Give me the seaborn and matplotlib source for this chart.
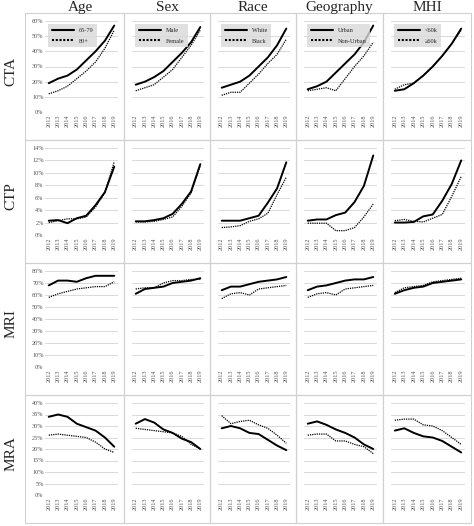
import matplotlib
matplotlib.use("Agg")
import matplotlib.pyplot as plt
import seaborn as sns
import pandas as pd
from matplotlib.patches import Rectangle
from matplotlib.ticker import PercentFormatter

sns.set_theme(style="white")
plt.rcParams['font.family'] = ['Liberation Serif', 'DejaVu Serif']

years = [2012, 2013, 2014, 2015, 2016, 2017, 2018, 2019]
columns = ["Age", "Sex", "Race", "Geography", "MHI"]
rows = ["CTA", "CTP", "MRI", "MRA"]
legend_labels = {"Age": ("65-79", "80+"), "Sex": ("Male", "Female"), "Race": ("White", "Black"),
                 "Geography": ("Urban", "Non-Urban"), "MHI": ("<60k", "≥60k")}

cta = {
    "Age": ([19, 22, 24, 28, 34, 40, 47, 57], [12, 14, 17, 22, 27, 33, 42, 54]),
    "Sex": ([18, 20, 23, 27, 33, 39, 46, 56], [14, 16, 18, 23, 28, 36, 44, 54]),
    "Race": ([16, 18, 20, 24, 30, 36, 44, 55], [11, 13, 13, 19, 25, 32, 38, 48]),
    "Geography": ([15, 17, 20, 26, 32, 38, 46, 57], [14, 15, 16, 14, 22, 30, 37, 46]),
    "MHI": ([14, 15, 19, 24, 30, 37, 45, 55], [15, 18, 19, 24, 30, 37, 45, 54]),
}
ctp = {
    "Age": ([2.3, 2.4, 1.9, 2.7, 3.1, 4.8, 6.9, 11.0], [2.0, 2.3, 2.6, 2.6, 2.9, 4.5, 6.8, 11.8]),
    "Sex": ([2.2, 2.2, 2.4, 2.7, 3.4, 5.0, 7.0, 11.4], [2.1, 2.1, 2.2, 2.5, 2.9, 4.6, 6.8, 11.2]),
    "Race": ([2.3, 2.3, 2.3, 2.7, 3.1, 5.2, 7.5, 11.7], [1.2, 1.3, 1.5, 2.2, 2.6, 3.5, 6.5, 9.3]),
    "Geography": ([2.3, 2.5, 2.5, 3.2, 3.6, 5.3, 7.9, 12.8], [1.9, 1.9, 1.9, 0.7, 0.7, 1.2, 2.9, 5.0]),
    "MHI": ([2.0, 2.0, 2.1, 3.0, 3.3, 5.5, 8.2, 12.0], [2.3, 2.5, 2.2, 2.1, 2.7, 3.3, 6.2, 9.4]),
}
mri = {
    "Age": ([68, 72, 72, 71, 74, 76, 76, 76], [58, 61, 63, 65, 66, 67, 67, 71]),
    "Sex": ([61, 65, 66, 67, 70, 71, 72, 74], [65, 66, 66, 70, 72, 72, 73, 73]),
    "Race": ([64, 67, 67, 69, 71, 72, 73, 75], [57, 61, 62, 60, 65, 66, 67, 68]),
    "Geography": ([64, 67, 68, 70, 72, 73, 73, 75], [58, 61, 62, 60, 65, 66, 67, 68]),
    "MHI": ([61, 64, 66, 67, 70, 71, 72, 73], [62, 66, 67, 68, 71, 72, 73, 74]),
}
mra = {
    "Age": ([34, 35, 34, 31, 29.5, 28, 25, 21], [26, 26.5, 26, 25.5, 25, 23, 20, 18.5]),
    "Sex": ([31, 33, 31.5, 28.5, 27, 24.5, 23, 20], [29, 28.5, 28, 27.5, 27, 25.5, 22, 20]),
    "Race": ([29, 30, 29, 27, 26.5, 24, 21.5, 19.5], [34.5, 31, 32, 32.5, 30.5, 29, 26, 22.5]),
    "Geography": ([31, 32, 30.5, 28.5, 27, 25, 22, 20], [26, 26.5, 26.5, 23.5, 23.5, 22, 21, 18]),
    "MHI": ([28, 29, 27, 25.5, 25, 23.5, 21, 18.5], [32.5, 33, 33, 30.5, 30, 28, 25, 22]),
}
data = {"CTA": cta, "CTP": ctp, "MRI": mri, "MRA": mra}
yticks = {"CTA": range(0, 61, 10), "CTP": range(0, 15, 2), "MRI": range(0, 81, 10), "MRA": range(0, 41, 5)}

W, H = 474, 526
fig = plt.figure(figsize=(W / 100, H / 100), dpi=100)
xe = [25, 124, 210, 296, 383, 471]
ye = [13, 140, 263, 395, 523]

for r, row in enumerate(rows):
    for c, col in enumerate(columns):
        x0, x1 = xe[c], xe[c + 1]
        y0, y1 = ye[r], ye[r + 1]
        fig.add_artist(Rectangle((x0 / W, 1 - y1 / H), (x1 - x0) / W, (y1 - y0) / H,
                                 transform=fig.transFigure, fill=False, ec="#d0d0d0", lw=0.8))
        left = x0 + (20 if c == 0 else 8)
        right = x1 - 6
        top = y0 + 8
        bottom = y1 - 28
        ax = fig.add_axes([left / W, 1 - bottom / H, (right - left) / W, (bottom - top) / H])
        s, d = data[row][col]
        lab = legend_labels[col]
        df = pd.DataFrame({"year": years * 2, "v": s + d, "g": [lab[0]] * 8 + [lab[1]] * 8})
        sns.lineplot(data=df, x="year", y="v", hue="g", style="g", palette=["black", "black"],
                     dashes=[(None, None), (1, 0.8)], ax=ax, legend=(r == 0))
        for ln, lw in zip(ax.lines, [1.4, 0.9]):
            ln.set_linewidth(lw)
        yt = list(yticks[row])
        ax.set_ylim(yt[0], yt[-1])
        ax.set_yticks(yt)
        ax.yaxis.grid(True, color="#d9d9d9", lw=0.7)
        ax.set_xlim(2011.6, 2019.4)
        ax.set_xticks(years)
        ax.set_xticklabels([str(y) for y in years], rotation=90, fontsize=4.5, color="#555555")
        ax.yaxis.set_major_formatter(PercentFormatter(decimals=0))
        ax.tick_params(axis="y", labelsize=4.5, colors="#555555", length=0, pad=1)
        ax.tick_params(axis="x", length=0, pad=2)
        if c != 0:
            ax.set_yticklabels([])
        ax.set_xlabel("")
        ax.set_ylabel("")
        for sp in ax.spines.values():
            sp.set_visible(False)
        if r == 0:
            leg = ax.legend(loc="upper left", fontsize=4.5, frameon=True, fancybox=False,
                            handlelength=3.5, borderpad=0.6, labelspacing=0.8)
            leg.get_frame().set_facecolor("#d9d9d9")
            leg.get_frame().set_edgecolor("none")
        if c == 0:
            fig.text(11 / W, 1 - ((y0 + y1) / 2 - 5) / H, row, rotation=90, ha="center",
                     va="center", fontsize=11)
    if r == 0:
        for c, col in enumerate(columns):
            fig.text(((xe[c] + xe[c + 1]) / 2 + (6 if c == 0 else 0)) / W, 1 - 1 / H, col,
                     ha="center", va="top", fontsize=11)

fig.savefig("out.png", dpi=100, facecolor="white")
